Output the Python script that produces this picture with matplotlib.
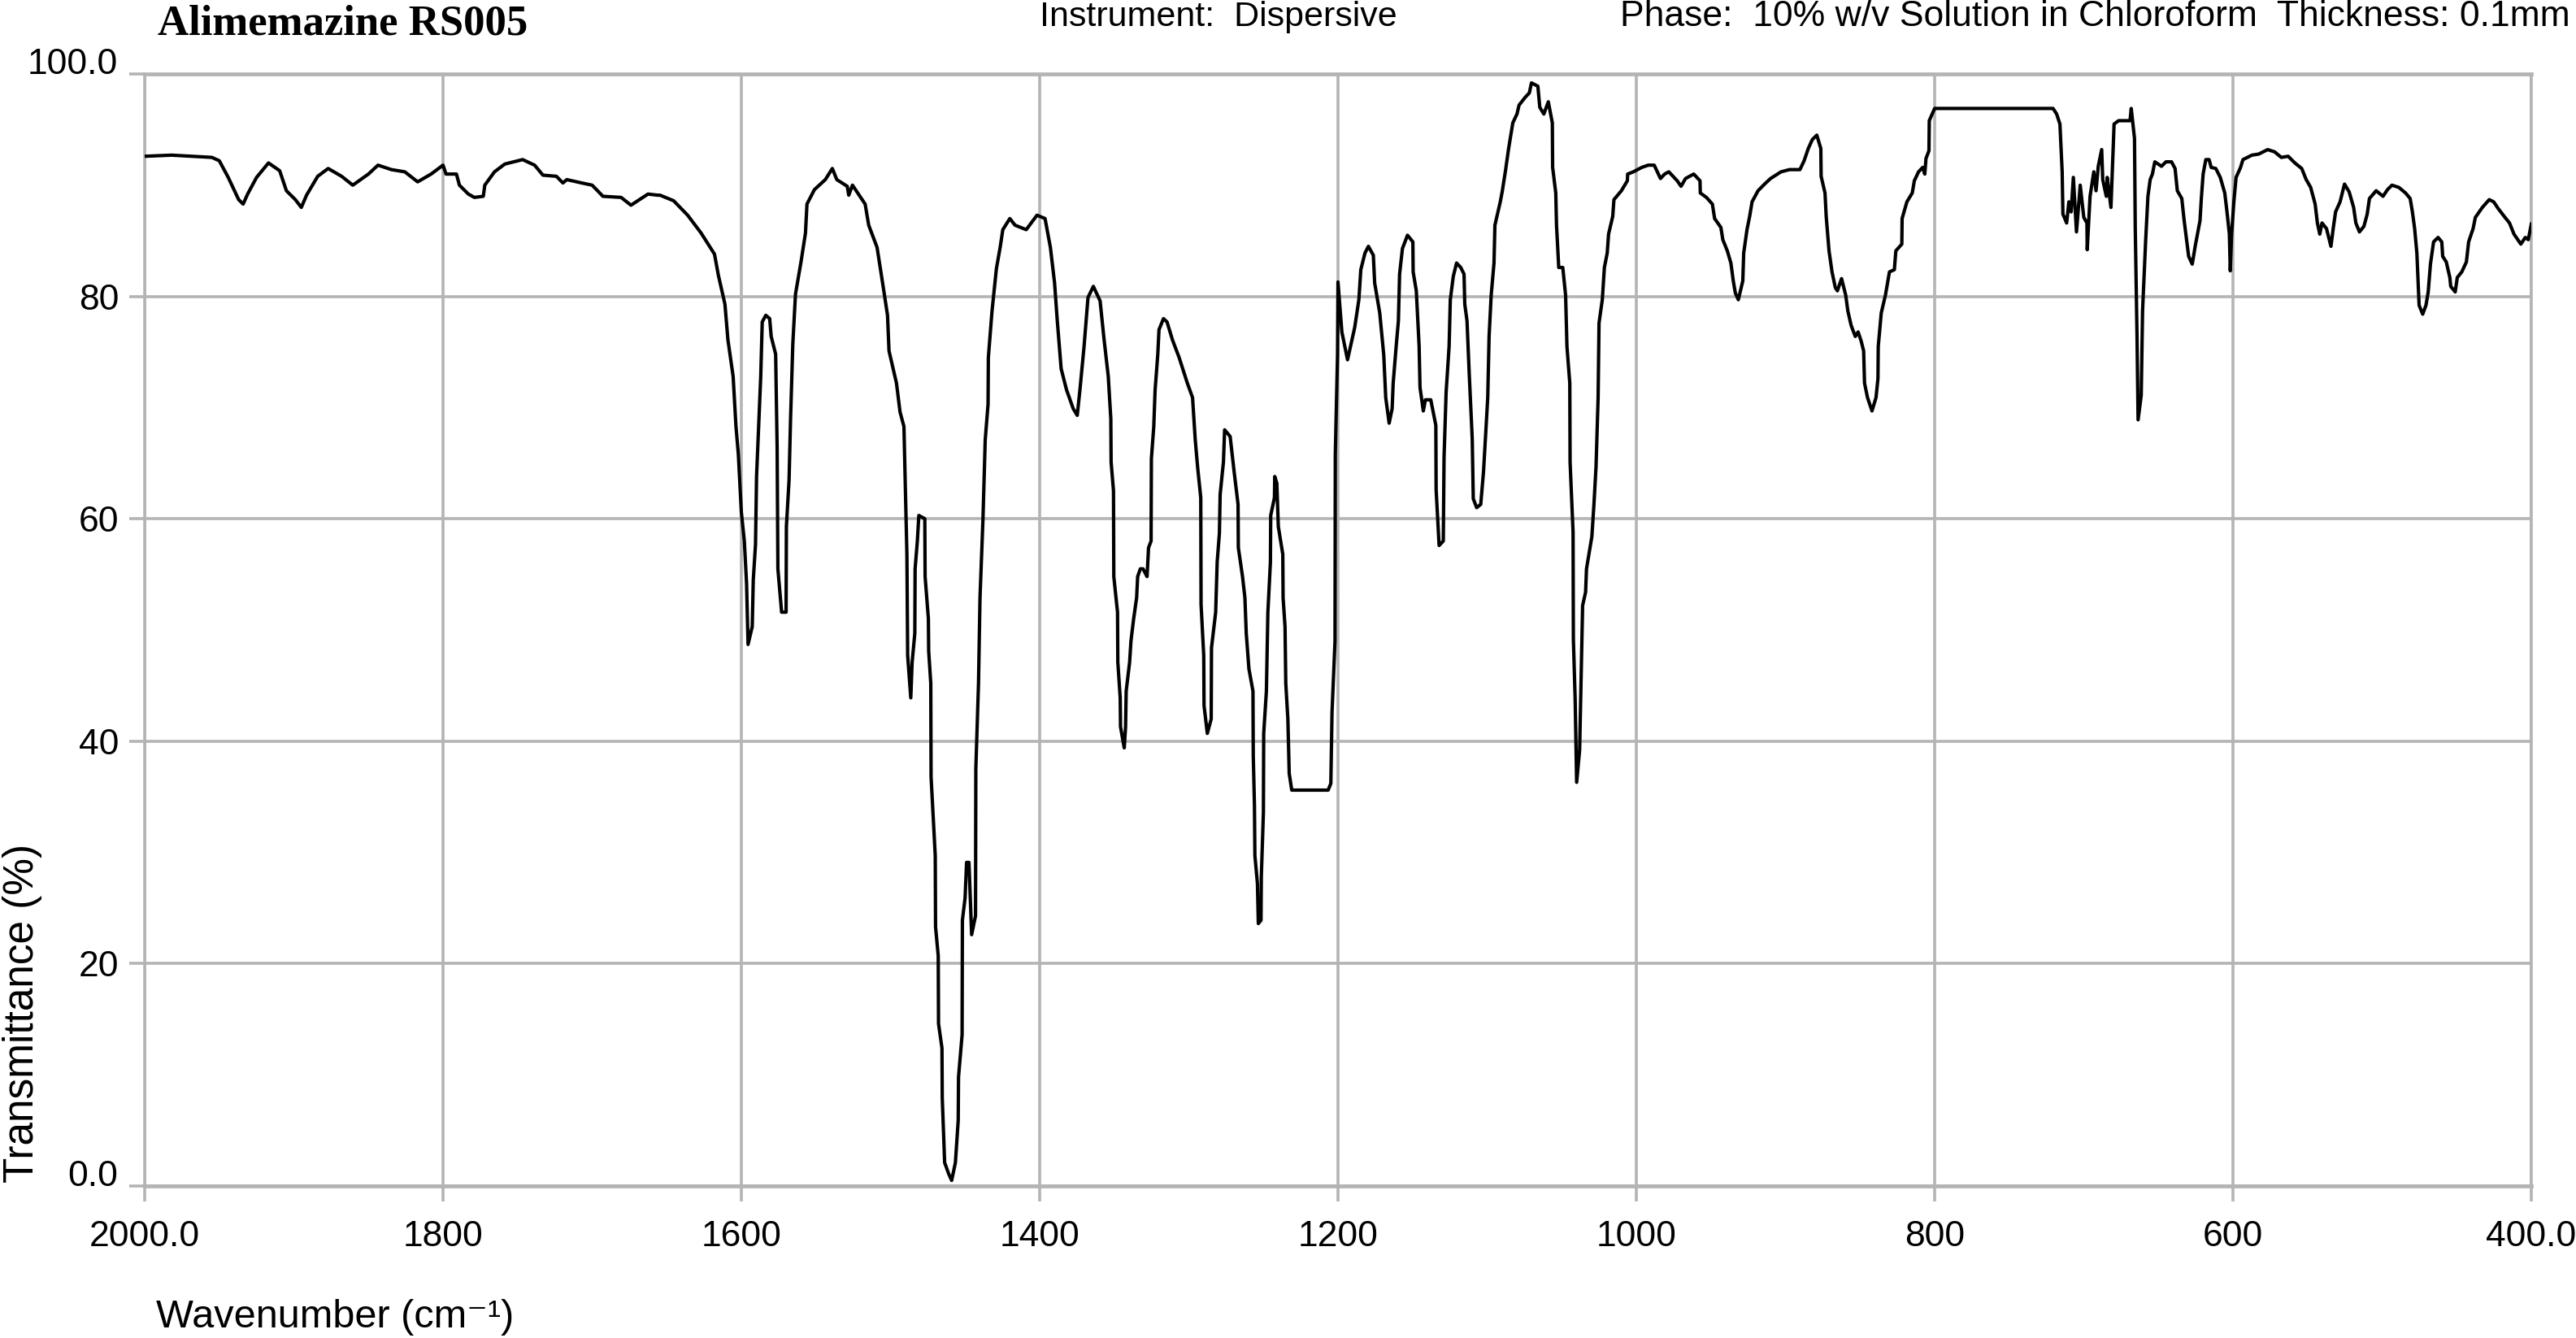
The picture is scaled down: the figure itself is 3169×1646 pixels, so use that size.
import matplotlib
matplotlib.use("Agg")
import matplotlib.pyplot as plt
from matplotlib import font_manager


# ------------------------------------------------------------
# data
# ------------------------------------------------------------
WAVENUMBER = [
    2000, 1982, 1955, 1950, 1944, 1937, 1934, 1931, 1925, 1917,
    1909.5, 1905, 1899, 1895, 1891.5, 1884, 1877, 1868, 1860.5, 1850,
    1843.6, 1834.6, 1825.6, 1817, 1808, 1800, 1798, 1791, 1789, 1783,
    1779, 1773, 1772, 1765.5, 1758.6, 1746.6, 1738.6, 1733, 1724, 1719.6,
    1717, 1707, 1700, 1692.8, 1680.6, 1674, 1662.6, 1656, 1654.5, 1645.4,
    1636, 1627, 1618, 1615.4, 1611, 1609, 1605.5, 1603.6, 1602, 1600,
    1598, 1596.5, 1595.5, 1592.7, 1592, 1590.5, 1589.8, 1587, 1586, 1583.6,
    1581, 1580, 1577, 1576, 1575.5, 1573, 1570, 1569.8, 1568, 1567,
    1565.5, 1563.7, 1560, 1557, 1556, 1551, 1543.7, 1539, 1536, 1529,
    1528, 1525.5, 1517, 1514.6, 1509, 1504.6, 1502, 1501, 1496, 1493.6,
    1491, 1490, 1489, 1488.5, 1486.4, 1485.5, 1483.7, 1483.5, 1482, 1481,
    1477, 1476.8, 1474.6, 1474.4, 1473, 1472.8, 1470, 1469.8, 1468, 1467.8,
    1465.5, 1465.3, 1463.7, 1461, 1459, 1456.5, 1454.6, 1454.4, 1452, 1451.8,
    1450, 1449, 1447.4, 1445.6, 1443, 1442.8, 1441, 1440, 1438, 1436.5,
    1434.6, 1434.4, 1432, 1429, 1426.5, 1424.7, 1420, 1416.5, 1409, 1401.8,
    1396.4, 1392.8, 1390, 1388.3, 1385.6, 1382, 1377.5, 1374.8, 1373, 1370.3,
    1367.6, 1364, 1359.5, 1356.8, 1354, 1352.3, 1352.1, 1350.5, 1350.3, 1347.8,
    1347.6, 1346, 1345.8, 1343.3, 1342.4, 1342, 1339.7, 1338.8, 1337, 1335,
    1334.3, 1332.5, 1330.7, 1328, 1327, 1325.3, 1325.1, 1323.5, 1322.6, 1320.8,
    1320, 1317, 1314.6, 1311, 1306.5, 1301, 1297.5, 1295.7, 1294, 1292,
    1291.8, 1290, 1289.8, 1287.6, 1285, 1284.8, 1282, 1281, 1279.5, 1279,
    1276.8, 1276, 1272.3, 1269.6, 1267, 1266.8, 1264, 1262.4, 1261.5, 1259.7,
    1257, 1256.8, 1256, 1255.7, 1254, 1253.4, 1251.6, 1251.4, 1250, 1249.8,
    1248, 1247, 1245.3, 1245.1, 1242.6, 1242.4, 1241, 1240, 1237, 1236.8,
    1235.5, 1235, 1233.6, 1232.7, 1231, 1206.6, 1204.8, 1204, 1202, 1201.8,
    1200.3, 1200, 1197.4, 1193.6, 1191.6, 1188.8, 1186, 1184.7, 1181.9, 1179.6,
    1176.3, 1175.4, 1172, 1169.3, 1168, 1165.7, 1163.7, 1163, 1161, 1159.5,
    1158.7, 1156.8, 1153.4, 1149.8, 1149.6, 1147.5, 1145.6, 1145, 1142.8, 1141.4,
    1137.8, 1134.4, 1134.2, 1132.2, 1129.4, 1128.9, 1127.5, 1125.5, 1124.7, 1122.7,
    1120.5, 1117.7, 1115.5, 1115, 1113.5, 1112, 1110, 1109.3, 1107, 1104.3,
    1102.4, 1099.6, 1098.7, 1097.3, 1095.4, 1094.8, 1091.2, 1089.8, 1087.6, 1085.6,
    1082.8, 1080, 1078.6, 1074.5, 1071.7, 1070.3, 1066, 1064.7, 1062, 1059,
    1056.3, 1056.1, 1054, 1053.5, 1052, 1049.3, 1047.4, 1046.5, 1044.6, 1044.4,
    1042.4, 1042.2, 1041, 1040, 1038, 1036.8, 1036, 1034, 1033.4, 1029.8,
    1028.4, 1027, 1025.6, 1025, 1022.8, 1021.4, 1019.5, 1018.6, 1015.8, 1015,
    1010, 1006, 1005.8, 1002, 996.3, 992, 988, 983.8, 981, 978.2,
    972.6, 970, 967, 961.5, 957.3, 957.1, 953, 949, 947.5, 943.3,
    942, 939, 936.6, 935, 933.6, 931.6, 928.6, 928, 925.8, 924,
    922.4, 918.4, 914, 910, 903, 897.3, 890.3, 887.5, 884.7, 882,
    879, 876.3, 876.1, 873.5, 872.7, 870.8, 868.8, 866.6, 865.2, 862.4,
    859.6, 858.2, 856, 853.2, 851.3, 849.3, 847.6, 847, 845, 842,
    839.3, 838, 837.8, 835.8, 833, 830.3, 827, 826, 822, 821.8,
    818.6, 815, 813.6, 810.8, 808, 806.6, 805.8, 803.8, 803.6, 801,
    800, 720.6, 718.2, 716, 714.5, 714, 711.5, 710, 708.5, 707,
    704.9, 702.4, 700, 697.9, 697.7, 695.8, 693.3, 691.8, 690.3, 688,
    687.3, 684.9, 684.3, 681.8, 679.7, 676.7, 669, 668.2, 666, 665.5,
    664.3, 663.6, 661.5, 660.6, 658.5, 657, 655.5, 654, 652.4, 647.9,
    644.9, 641.2, 638.8, 637.3, 634.3, 632.7, 629.7, 627.3, 625.2, 622.1,
    621.2, 620, 618.2, 616, 614.6, 611.5, 608.5, 605.5, 604, 602.4,
    601.8, 600.9, 599.4, 597.9, 594.9, 593.3, 587.3, 582.7, 576.7, 572.1,
    567.6, 563, 558.5, 553.9, 550.9, 547.9, 544.9, 543.4, 541.8, 540.3,
    537.3, 534.3, 532.8, 531.2, 528.2, 525.2, 522.1, 519.1, 517.6, 515.2,
    512.2, 510, 508.5, 504, 499.4, 496.4, 493.4, 488.8, 484.3, 481.2,
    479.7, 478.2, 476.7, 475.2, 472.8, 470.6, 469.1, 467.6, 465.5, 462.5,
    460, 459.4, 457, 454.6, 454, 451, 449.6, 446.6, 443.5, 442,
    439, 437.5, 432.8, 428.2, 425.2, 422.2, 417.6, 414.6, 411.6, 407,
    404, 402, 400,
]

TRANSMITTANCE = [
    92.6, 92.7, 92.5, 92.2, 90.7, 88.7, 88.3, 89.2, 90.7, 92.0,
    91.3, 89.5, 88.7, 88.0, 89.1, 90.8, 91.5, 90.8, 90.0, 91.0,
    91.8, 91.4, 91.2, 90.3, 91.0, 91.8, 91.0, 91.0, 90.0, 89.2,
    88.9, 89.0, 90.0, 91.2, 91.9, 92.3, 91.8, 90.9, 90.8, 90.2,
    90.5, 90.2, 90.0, 89.0, 88.9, 88.2, 89.2, 89.1, 89.1, 88.6,
    87.3, 85.7, 83.8, 81.9, 79.3, 76.1, 72.8, 68.3, 65.8, 60.6,
    58.0, 54.2, 48.7, 50.3, 54.5, 57.7, 63.8, 72.8, 77.7, 78.3,
    78.0, 76.4, 74.8, 66.4, 55.5, 51.6, 51.6, 59.3, 63.5, 69.0,
    75.7, 80.2, 83.1, 85.7, 88.3, 89.6, 90.5, 91.5, 90.5, 89.9,
    89.1, 90.0, 88.3, 86.4, 84.4, 80.6, 78.3, 75.1, 72.2, 69.6,
    68.3, 62.5, 56.8, 47.7, 43.9, 47.1, 49.7, 55.5, 58.0, 60.3,
    60.0, 54.8, 51.0, 48.1, 45.2, 36.8, 29.7, 23.3, 20.7, 14.6,
    12.4, 7.9, 2.1, 1.1, 0.5, 2.1, 5.9, 9.8, 13.6, 23.9,
    25.9, 29.1, 29.1, 22.6, 24.3, 37.5, 45.2, 52.9, 60.0, 67.1,
    70.3, 74.5, 78.6, 82.5, 84.4, 86.0, 87.0, 86.4, 86.0, 87.3,
    87.0, 84.4, 81.2, 78.0, 73.5, 71.6, 69.9, 69.3, 71.6, 75.4,
    79.9, 80.9, 79.6, 76.1, 72.8, 69.0, 65.1, 62.5, 54.8, 51.6,
    47.1, 43.9, 41.3, 39.4, 41.3, 44.5, 47.1, 49.0, 51.0, 52.9,
    54.8, 55.5, 55.5, 54.8, 57.4, 58.0, 65.4, 68.3, 71.6, 74.8,
    77.0, 78.0, 77.7, 76.1, 74.5, 72.2, 70.9, 67.1, 64.5, 61.9,
    52.3, 47.7, 43.2, 40.7, 42.0, 48.4, 51.6, 56.1, 58.7, 62.2,
    65.1, 68.0, 67.4, 64.2, 61.3, 57.4, 54.8, 52.9, 49.7, 46.5,
    44.5, 38.7, 34.2, 29.7, 27.2, 23.6, 23.9, 27.8, 33.6, 40.7,
    44.5, 51.6, 56.1, 60.3, 61.9, 63.8, 63.2, 59.3, 56.8, 52.9,
    50.3, 45.2, 42.0, 37.1, 35.6, 35.6, 36.2, 42.6, 49.0, 65.8,
    74.8, 81.3, 76.8, 74.3, 75.5, 77.2, 79.7, 82.4, 83.9, 84.5,
    83.7, 81.2, 78.5, 74.7, 70.9, 68.6, 69.9, 72.2, 75.5, 77.8,
    82.0, 84.3, 85.5, 84.9, 82.2, 80.5, 75.5, 71.8, 69.7, 70.7,
    70.7, 68.4, 62.6, 57.6, 58.0, 65.5, 71.4, 75.5, 79.7, 81.8,
    83.0, 82.6, 82.0, 79.3, 77.8, 73.0, 67.2, 61.8, 61.0, 61.3,
    64.3, 70.9, 76.4, 80.1, 83.0, 86.4, 88.5, 89.5, 91.4, 93.3,
    95.6, 96.4, 97.2, 97.9, 98.3, 99.2, 98.9, 97.0, 96.4, 97.5,
    95.6, 91.6, 89.3, 86.4, 82.6, 82.6, 80.1, 75.5, 72.2, 65.1,
    58.8, 49.2, 43.8, 36.3, 39.2, 47.1, 52.2, 53.4, 55.5, 58.4,
    61.3, 64.7, 70.9, 77.6, 79.7, 82.6, 83.9, 85.6, 87.2, 88.7,
    89.5, 90.4, 91.0, 91.2, 91.6, 91.8, 91.8, 90.6, 91.0, 91.2,
    90.4, 89.9, 90.6, 91.0, 90.4, 89.3, 88.9, 88.3, 87.0, 86.2,
    85.1, 84.1, 83.0, 81.4, 80.3, 79.7, 81.4, 83.9, 86.0, 87.2,
    88.5, 89.5, 90.1, 90.6, 91.2, 91.4, 91.4, 92.2, 93.3, 94.1,
    94.5, 93.3, 90.8, 89.3, 87.2, 84.1, 82.2, 80.8, 80.5, 81.6,
    80.1, 78.7, 77.4, 76.4, 76.8, 76.0, 75.1, 72.2, 70.9, 69.7,
    70.9, 72.6, 75.5, 78.5, 80.1, 82.2, 82.4, 84.1, 84.7, 87.0,
    88.5, 89.3, 90.4, 91.2, 91.6, 91.0, 92.4, 93.1, 95.8, 96.6,
    96.9, 96.9, 96.4, 95.5, 91.2, 87.4, 86.6, 88.5, 87.6, 90.7,
    85.8, 90.0, 87.1, 86.6, 84.2, 89.0, 91.2, 89.5, 91.7, 93.2,
    90.5, 89.0, 90.7, 88.0, 95.5, 95.8, 95.8, 96.9, 94.2, 86.1,
    76.3, 68.9, 71.1, 78.7, 85.1, 89.0, 90.5, 91.0, 92.1, 91.7,
    92.1, 92.1, 91.5, 89.5, 88.8, 86.8, 83.6, 82.9, 84.6, 86.8,
    88.8, 91.0, 92.3, 92.3, 91.6, 91.5, 90.7, 89.3, 87.6, 85.6,
    82.3, 85.6, 88.5, 90.7, 91.6, 92.3, 92.7, 92.8, 93.2, 93.0,
    92.5, 92.6, 92.0, 91.5, 90.5, 89.8, 88.3, 86.6, 85.6, 86.6,
    86.1, 84.5, 86.1, 87.6, 88.5, 90.1, 89.4, 88.0, 86.6, 85.8,
    86.3, 87.4, 88.8, 89.5, 89.0, 89.6, 90.0, 89.8, 89.3, 88.8,
    87.6, 86.1, 83.9, 79.2, 78.4, 79.2, 80.4, 82.9, 84.9, 85.3,
    84.9, 83.6, 83.1, 81.7, 80.9, 80.4, 81.7, 82.2, 83.1, 84.9,
    86.1, 87.1, 88.0, 88.7, 88.5, 87.9, 87.1, 86.6, 85.6, 84.7,
    85.3, 85.1, 86.5,
]

XTICKS = [2000, 1800, 1600, 1400, 1200, 1000, 800, 600, 400]
XTICK_LABELS = ["2000.0", "1800", "1600", "1400", "1200", "1000", "800", "600", "400.0"]
YTICKS = [0, 20, 40, 60, 80, 100]
YTICK_LABELS = ["", "20", "40", "60", "80", ""]

TITLE = "Alimemazine RS005"
INSTRUMENT = "Instrument:  Dispersive"
PHASE = "Phase:  10% w/v Solution in Chloroform  Thickness: 0.1mm"

GRID = "#b4b4b4"
TICK_FS = 16

# ------------------------------------------------------------
# fonts
# ------------------------------------------------------------
names = {f.name for f in font_manager.fontManager.ttflist}
NARROW = "Liberation Sans Narrow" if "Liberation Sans Narrow" in names else "Liberation Sans"
plt.rcParams["font.family"] = [NARROW, "Liberation Sans", "DejaVu Sans"]

# ------------------------------------------------------------
# figure
# ------------------------------------------------------------
fig = plt.figure(figsize=(15.845, 8.23), dpi=200)
ax = fig.add_axes([0.05617, 0.11361, 0.92647, 0.8311])

ax.plot(WAVENUMBER, TRANSMITTANCE, color="black", lw=1.5, zorder=3)

ax.set_xlim(2000, 400)
ax.set_ylim(0, 100)
ax.set_xticks(XTICKS, XTICK_LABELS)
ax.set_yticks(YTICKS, YTICK_LABELS)

ax.grid(True, color=GRID, lw=1.3)
ax.set_axisbelow(True)
for s in ["left", "right"]:
    ax.spines[s].set_color(GRID)
    ax.spines[s].set_linewidth(1.3)
for s in ["top", "bottom"]:
    ax.spines[s].set_color(GRID)
    ax.spines[s].set_linewidth(1.7)

ax.tick_params(axis="both", colors=GRID, width=1.3, length=6.8,
               labelcolor="black", labelsize=TICK_FS)
ax.tick_params(axis="x", pad=8.5)
ax.tick_params(axis="y", pad=4.7)

# end labels of the y axis sit on top of their lines
for yv, txt in [(100, "100.0"), (0, "0.0")]:
    ax.text(-0.01124, yv, txt, transform=ax.get_yaxis_transform(),
            ha="right", va="baseline", fontsize=TICK_FS)

# header
fig.text(0.0612, 0.9739, TITLE, family="Liberation Serif", weight="bold",
         fontsize=19, va="baseline")
fig.text(0.4036, 0.9806, INSTRUMENT, family="Liberation Sans",
         fontsize=15.5, va="baseline")
fig.text(0.6289, 0.9806, PHASE, family="Liberation Sans",
         fontsize=16, va="baseline")

# axis labels
fig.text(0.0606, 0.0079, "Wavenumber (cm\u207b\u00b9)", fontsize=17.5,
         va="baseline")
fig.text(0.0088, 0.116, "Transmittance (%)", rotation=90, ha="center",
         va="bottom", fontsize=18.5)

fig.savefig("out.png", dpi=200)
